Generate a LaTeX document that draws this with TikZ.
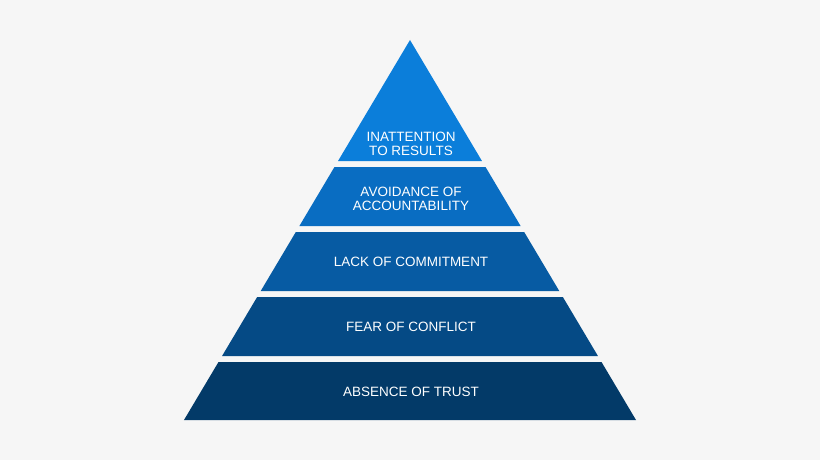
\documentclass[tikz,border=0pt]{standalone}
\usepackage{fontspec}
\setmainfont{Liberation Sans}
\definecolor{backdrop}{HTML}{F6F6F6}
\definecolor{tierfive}{HTML}{0B7EDA}
\definecolor{tierfour}{HTML}{096DC2}
\definecolor{tierthree}{HTML}{075BA3}
\definecolor{tiertwo}{HTML}{054A85}
\definecolor{tierone}{HTML}{033A68}

\begin{document}
\begin{tikzpicture}[
  x=1pt, y=-1pt,
  label/.style={text=white, font=\fontsize{13.5}{14.5}\selectfont, align=center,
                inner sep=0pt}
]
  \fill[backdrop] (0,0) rectangle (820,460);
  \useasboundingbox (0,0) rectangle (820,460);

  % tiers of the pyramid: apex (410,40), base from 184 to 636 at y=420
  \foreach \ytop/\ybot/\col in {40/161/tierfive, 167/226/tierfour,
      232/291/tierthree, 297/356/tiertwo, 362/420/tierone} {
    \pgfmathsetmacro{\wtop}{(\ytop-40)*0.59474}
    \pgfmathsetmacro{\wbot}{(\ybot-40)*0.59474}
    \fill[\col] (410-\wtop,\ytop) -- (410+\wtop,\ytop)
      -- (410+\wbot,\ybot) -- (410-\wbot,\ybot) -- cycle;
  }

  \node[label] (results) at (411, 144) {INATTENTION\\TO RESULTS};
  \node[label] (account) at (411, 199) {AVOIDANCE OF\\ACCOUNTABILITY};
  \node[label] (commit)  at (411, 261.5) {LACK OF COMMITMENT};
  \node[label] (conflict) at (411, 327) {FEAR OF CONFLICT};
  \node[label] (trust)   at (411, 391.5) {ABSENCE OF TRUST};
\end{tikzpicture}
\end{document}
